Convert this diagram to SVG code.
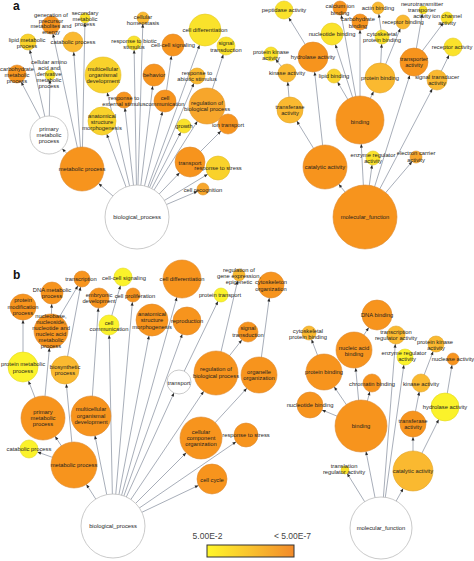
<svg xmlns="http://www.w3.org/2000/svg" width="474" height="561" viewBox="0 0 474 561">
<style>
.e{stroke:#9ea5b1;stroke-width:0.9;fill:none}
.t{font-family:"Liberation Sans",Arial,sans-serif;font-size:5.8px;fill:#1e1e1e;text-anchor:middle}
.O{fill:#F7941D;stroke:#DC8A32;stroke-width:0.6}
.OG{fill:#F7A62B;stroke:#DE962E;stroke-width:0.6}
.G{fill:#FAB930;stroke:#E0A52C;stroke-width:0.6}
.YG{fill:#F9D22B;stroke:#E2BC2A;stroke-width:0.6}
.Y{fill:#FAE22B;stroke:#E2C92A;stroke-width:0.6}
.YB{fill:#FBF22A;stroke:#E3D822;stroke-width:0.6}
.W{fill:#fff;stroke:#bdbdbd;stroke-width:0.8}
.lab{font-family:"Liberation Sans",Arial,sans-serif;font-weight:bold;font-size:12px;fill:#111}
.leg{font-family:"Liberation Sans",Arial,sans-serif;font-size:8.5px;fill:#444;text-anchor:middle}
</style>
<defs>
<linearGradient id="grad" x1="0" y1="0" x2="1" y2="0"><stop offset="0" stop-color="#FFF72A"/><stop offset="0.5" stop-color="#F9C22E"/><stop offset="1" stop-color="#F28A2A"/></linearGradient>
<marker id="m4" viewBox="-40 -3 40 6" refX="0" refY="0" markerWidth="40" markerHeight="6" markerUnits="userSpaceOnUse" orient="auto"><path d="M-4,0 L-7.6,-1.5 L-7.6,1.5 Z" fill="#2a2a2a"/></marker>
<marker id="m5" viewBox="-40 -3 40 6" refX="0" refY="0" markerWidth="40" markerHeight="6" markerUnits="userSpaceOnUse" orient="auto"><path d="M-5,0 L-8.6,-1.5 L-8.6,1.5 Z" fill="#2a2a2a"/></marker>
<marker id="m6" viewBox="-40 -3 40 6" refX="0" refY="0" markerWidth="40" markerHeight="6" markerUnits="userSpaceOnUse" orient="auto"><path d="M-6,0 L-9.6,-1.5 L-9.6,1.5 Z" fill="#2a2a2a"/></marker>
<marker id="m7" viewBox="-40 -3 40 6" refX="0" refY="0" markerWidth="40" markerHeight="6" markerUnits="userSpaceOnUse" orient="auto"><path d="M-7,0 L-10.6,-1.5 L-10.6,1.5 Z" fill="#2a2a2a"/></marker>
<marker id="m8" viewBox="-40 -3 40 6" refX="0" refY="0" markerWidth="40" markerHeight="6" markerUnits="userSpaceOnUse" orient="auto"><path d="M-8,0 L-11.6,-1.5 L-11.6,1.5 Z" fill="#2a2a2a"/></marker>
<marker id="m9" viewBox="-40 -3 40 6" refX="0" refY="0" markerWidth="40" markerHeight="6" markerUnits="userSpaceOnUse" orient="auto"><path d="M-9,0 L-12.6,-1.5 L-12.6,1.5 Z" fill="#2a2a2a"/></marker>
<marker id="m10" viewBox="-40 -3 40 6" refX="0" refY="0" markerWidth="40" markerHeight="6" markerUnits="userSpaceOnUse" orient="auto"><path d="M-10,0 L-13.6,-1.5 L-13.6,1.5 Z" fill="#2a2a2a"/></marker>
<marker id="m11" viewBox="-40 -3 40 6" refX="0" refY="0" markerWidth="40" markerHeight="6" markerUnits="userSpaceOnUse" orient="auto"><path d="M-11,0 L-14.6,-1.5 L-14.6,1.5 Z" fill="#2a2a2a"/></marker>
<marker id="m12" viewBox="-40 -3 40 6" refX="0" refY="0" markerWidth="40" markerHeight="6" markerUnits="userSpaceOnUse" orient="auto"><path d="M-12,0 L-15.6,-1.5 L-15.6,1.5 Z" fill="#2a2a2a"/></marker>
<marker id="m13" viewBox="-40 -3 40 6" refX="0" refY="0" markerWidth="40" markerHeight="6" markerUnits="userSpaceOnUse" orient="auto"><path d="M-13,0 L-16.6,-1.5 L-16.6,1.5 Z" fill="#2a2a2a"/></marker>
<marker id="m14" viewBox="-40 -3 40 6" refX="0" refY="0" markerWidth="40" markerHeight="6" markerUnits="userSpaceOnUse" orient="auto"><path d="M-14,0 L-17.6,-1.5 L-17.6,1.5 Z" fill="#2a2a2a"/></marker>
<marker id="m15" viewBox="-40 -3 40 6" refX="0" refY="0" markerWidth="40" markerHeight="6" markerUnits="userSpaceOnUse" orient="auto"><path d="M-15,0 L-18.6,-1.5 L-18.6,1.5 Z" fill="#2a2a2a"/></marker>
<marker id="m16" viewBox="-40 -3 40 6" refX="0" refY="0" markerWidth="40" markerHeight="6" markerUnits="userSpaceOnUse" orient="auto"><path d="M-16,0 L-19.6,-1.5 L-19.6,1.5 Z" fill="#2a2a2a"/></marker>
<marker id="m17" viewBox="-40 -3 40 6" refX="0" refY="0" markerWidth="40" markerHeight="6" markerUnits="userSpaceOnUse" orient="auto"><path d="M-17,0 L-20.6,-1.5 L-20.6,1.5 Z" fill="#2a2a2a"/></marker>
<marker id="m18" viewBox="-40 -3 40 6" refX="0" refY="0" markerWidth="40" markerHeight="6" markerUnits="userSpaceOnUse" orient="auto"><path d="M-18,0 L-21.6,-1.5 L-21.6,1.5 Z" fill="#2a2a2a"/></marker>
<marker id="m19" viewBox="-40 -3 40 6" refX="0" refY="0" markerWidth="40" markerHeight="6" markerUnits="userSpaceOnUse" orient="auto"><path d="M-19,0 L-22.6,-1.5 L-22.6,1.5 Z" fill="#2a2a2a"/></marker>
<marker id="m20" viewBox="-40 -3 40 6" refX="0" refY="0" markerWidth="40" markerHeight="6" markerUnits="userSpaceOnUse" orient="auto"><path d="M-20,0 L-23.6,-1.5 L-23.6,1.5 Z" fill="#2a2a2a"/></marker>
<marker id="m21" viewBox="-40 -3 40 6" refX="0" refY="0" markerWidth="40" markerHeight="6" markerUnits="userSpaceOnUse" orient="auto"><path d="M-21,0 L-24.6,-1.5 L-24.6,1.5 Z" fill="#2a2a2a"/></marker>
<marker id="m22" viewBox="-40 -3 40 6" refX="0" refY="0" markerWidth="40" markerHeight="6" markerUnits="userSpaceOnUse" orient="auto"><path d="M-22,0 L-25.6,-1.5 L-25.6,1.5 Z" fill="#2a2a2a"/></marker>
<marker id="m23" viewBox="-40 -3 40 6" refX="0" refY="0" markerWidth="40" markerHeight="6" markerUnits="userSpaceOnUse" orient="auto"><path d="M-23,0 L-26.6,-1.5 L-26.6,1.5 Z" fill="#2a2a2a"/></marker>
<marker id="m24" viewBox="-40 -3 40 6" refX="0" refY="0" markerWidth="40" markerHeight="6" markerUnits="userSpaceOnUse" orient="auto"><path d="M-24,0 L-27.6,-1.5 L-27.6,1.5 Z" fill="#2a2a2a"/></marker>
<marker id="m26" viewBox="-40 -3 40 6" refX="0" refY="0" markerWidth="40" markerHeight="6" markerUnits="userSpaceOnUse" orient="auto"><path d="M-26,0 L-29.6,-1.5 L-29.6,1.5 Z" fill="#2a2a2a"/></marker>
</defs>
<rect width="474" height="561" fill="#fff"/>

<g id="connectors">
<!-- panel a, biological_process -->
<line class="e" x1="137" y1="217" x2="82" y2="169" marker-end="url(#m22)"/>
<line class="e" x1="137" y1="217" x2="103" y2="75" marker-end="url(#m18)"/>
<line class="e" x1="137" y1="217" x2="102" y2="121" marker-end="url(#m14)"/>
<line class="e" x1="137" y1="217" x2="124" y2="100" marker-end="url(#m8)"/>
<line class="e" x1="137" y1="217" x2="134" y2="43" marker-end="url(#m7)"/>
<line class="e" x1="137" y1="217" x2="143" y2="18" marker-end="url(#m6)"/>
<line class="e" x1="137" y1="217" x2="154" y2="75" marker-end="url(#m11)"/>
<line class="e" x1="137" y1="217" x2="165" y2="101" marker-end="url(#m11)"/>
<line class="e" x1="137" y1="217" x2="205" y2="30" marker-end="url(#m16)"/>
<line class="e" x1="137" y1="217" x2="197" y2="76" marker-end="url(#m8)"/>
<line class="e" x1="137" y1="217" x2="207" y2="106" marker-end="url(#m18)"/>
<line class="e" x1="137" y1="217" x2="184" y2="126" marker-end="url(#m7)"/>
<line class="e" x1="137" y1="217" x2="190" y2="162" marker-end="url(#m15)"/>
<line class="e" x1="137" y1="217" x2="218" y2="168" marker-end="url(#m12)"/>
<line class="e" x1="137" y1="217" x2="203" y2="189" marker-end="url(#m6)"/>
<line class="e" x1="82" y1="169" x2="49" y2="135" marker-end="url(#m19)"/>
<line class="e" x1="82" y1="169" x2="51" y2="25" marker-end="url(#m9)"/>
<line class="e" x1="82" y1="169" x2="73" y2="42" marker-end="url(#m10)"/>
<line class="e" x1="82" y1="169" x2="85" y2="18" marker-end="url(#m5)"/>
<line class="e" x1="49" y1="135" x2="17" y2="74" marker-end="url(#m9)"/>
<line class="e" x1="49" y1="135" x2="50" y2="75" marker-end="url(#m5)"/>
<line class="e" x1="49" y1="135" x2="28" y2="42" marker-end="url(#m8)"/>
<line class="e" x1="165" y1="101" x2="173" y2="45" marker-end="url(#m11)"/>
<line class="e" x1="207" y1="106" x2="226" y2="46" marker-end="url(#m9)"/>
<line class="e" x1="190" y1="162" x2="228" y2="124" marker-end="url(#m10)"/>
<!-- panel a, molecular_function -->
<line class="e" x1="365" y1="217" x2="325" y2="167" marker-end="url(#m22)"/>
<line class="e" x1="365" y1="217" x2="360" y2="120" marker-end="url(#m24)"/>
<line class="e" x1="365" y1="217" x2="373" y2="158" marker-end="url(#m7)"/>
<line class="e" x1="365" y1="217" x2="416" y2="157" marker-end="url(#m6)"/>
<line class="e" x1="365" y1="217" x2="414" y2="62" marker-end="url(#m14)"/>
<line class="e" x1="365" y1="217" x2="437" y2="80" marker-end="url(#m10)"/>
<line class="e" x1="325" y1="167" x2="290" y2="110" marker-end="url(#m13)"/>
<line class="e" x1="325" y1="167" x2="313" y2="57" marker-end="url(#m15)"/>
<line class="e" x1="290" y1="110" x2="287" y2="73" marker-end="url(#m9)"/>
<line class="e" x1="287" y1="73" x2="271" y2="54" marker-end="url(#m7)"/>
<line class="e" x1="313" y1="57" x2="284" y2="10" marker-end="url(#m9)"/>
<line class="e" x1="360" y1="120" x2="332" y2="34" marker-end="url(#m11)"/>
<line class="e" x1="360" y1="120" x2="334" y2="76" marker-end="url(#m7)"/>
<line class="e" x1="360" y1="120" x2="340" y2="8" marker-end="url(#m7)"/>
<line class="e" x1="360" y1="120" x2="360" y2="22" marker-end="url(#m8)"/>
<line class="e" x1="360" y1="120" x2="380" y2="78" marker-end="url(#m15)"/>
<line class="e" x1="380" y1="78" x2="382" y2="37" marker-end="url(#m7)"/>
<line class="e" x1="380" y1="78" x2="403" y2="22" marker-end="url(#m7)"/>
<line class="e" x1="382" y1="37" x2="378" y2="8" marker-end="url(#m6)"/>
<line class="e" x1="414" y1="62" x2="423" y2="10" marker-end="url(#m4)"/>
<line class="e" x1="414" y1="62" x2="447" y2="18" marker-end="url(#m6)"/>
<line class="e" x1="437" y1="80" x2="453" y2="47" marker-end="url(#m9)"/>
<!-- panel b, biological_process -->
<line class="e" x1="113" y1="526" x2="74" y2="465" marker-end="url(#m23)"/>
<line class="e" x1="113" y1="526" x2="91" y2="416" marker-end="url(#m20)"/>
<line class="e" x1="113" y1="526" x2="109" y2="325" marker-end="url(#m10)"/>
<line class="e" x1="113" y1="526" x2="133" y2="295" marker-end="url(#m7)"/>
<line class="e" x1="113" y1="526" x2="152" y2="320" marker-end="url(#m16)"/>
<line class="e" x1="113" y1="526" x2="182" y2="279" marker-end="url(#m19)"/>
<line class="e" x1="113" y1="526" x2="187" y2="321" marker-end="url(#m14)"/>
<line class="e" x1="113" y1="526" x2="179" y2="382" marker-end="url(#m12)"/>
<line class="e" x1="113" y1="526" x2="216" y2="373" marker-end="url(#m22)"/>
<line class="e" x1="113" y1="526" x2="201" y2="438" marker-end="url(#m21)"/>
<line class="e" x1="113" y1="526" x2="246" y2="435" marker-end="url(#m12)"/>
<line class="e" x1="113" y1="526" x2="212" y2="479" marker-end="url(#m15)"/>
<line class="e" x1="74" y1="465" x2="43" y2="418" marker-end="url(#m22)"/>
<line class="e" x1="74" y1="465" x2="29" y2="449" marker-end="url(#m9)"/>
<line class="e" x1="74" y1="465" x2="65" y2="370" marker-end="url(#m14)"/>
<line class="e" x1="43" y1="418" x2="23" y2="367" marker-end="url(#m15)"/>
<line class="e" x1="43" y1="418" x2="51" y2="331" marker-end="url(#m17)"/>
<line class="e" x1="23" y1="367" x2="23" y2="307" marker-end="url(#m13)"/>
<line class="e" x1="51" y1="331" x2="52" y2="293" marker-end="url(#m11)"/>
<line class="e" x1="51" y1="331" x2="82" y2="279" marker-end="url(#m8)"/>
<line class="e" x1="65" y1="370" x2="82" y2="279" marker-end="url(#m8)"/>
<line class="e" x1="91" y1="416" x2="99" y2="298" marker-end="url(#m10)"/>
<line class="e" x1="109" y1="325" x2="123" y2="277" marker-end="url(#m9)"/>
<line class="e" x1="179" y1="382" x2="221" y2="295" marker-end="url(#m7)"/>
<line class="e" x1="216" y1="373" x2="248" y2="332" marker-end="url(#m10)"/>
<line class="e" x1="216" y1="373" x2="239" y2="275" marker-end="url(#m6)"/>
<line class="e" x1="201" y1="438" x2="259" y2="375" marker-end="url(#m18)"/>
<line class="e" x1="259" y1="375" x2="271" y2="285" marker-end="url(#m13)"/>
<!-- panel b, molecular_function -->
<line class="e" x1="381" y1="528" x2="361" y2="426" marker-end="url(#m26)"/>
<line class="e" x1="381" y1="528" x2="413" y2="471" marker-end="url(#m20)"/>
<line class="e" x1="381" y1="528" x2="345" y2="470" marker-end="url(#m4)"/>
<line class="e" x1="381" y1="528" x2="396" y2="335" marker-end="url(#m9)"/>
<line class="e" x1="381" y1="528" x2="405" y2="357" marker-end="url(#m8)"/>
<line class="e" x1="413" y1="471" x2="413" y2="424" marker-end="url(#m13)"/>
<line class="e" x1="413" y1="471" x2="445" y2="407" marker-end="url(#m14)"/>
<line class="e" x1="413" y1="424" x2="421" y2="383" marker-end="url(#m9)"/>
<line class="e" x1="421" y1="383" x2="436" y2="344" marker-end="url(#m8)"/>
<line class="e" x1="445" y1="407" x2="453" y2="359" marker-end="url(#m6)"/>
<line class="e" x1="361" y1="426" x2="310" y2="405" marker-end="url(#m13)"/>
<line class="e" x1="361" y1="426" x2="324" y2="372" marker-end="url(#m18)"/>
<line class="e" x1="361" y1="426" x2="354" y2="350" marker-end="url(#m18)"/>
<line class="e" x1="361" y1="426" x2="372" y2="383" marker-end="url(#m9)"/>
<line class="e" x1="324" y1="372" x2="309" y2="333" marker-end="url(#m7)"/>
<line class="e" x1="354" y1="350" x2="377" y2="315" marker-end="url(#m15)"/>
</g>

<text class="lab" x="13" y="9.5">a</text>
<text class="lab" x="13" y="278.5">b</text>

<!-- panel a left -->
<g id="a_bp"><circle class="W" cx="137" cy="217" r="32"/><text class="t" x="137" y="219">biological_process</text></g>
<g id="a_mp"><circle class="O" cx="82" cy="169" r="22"/><text class="t" x="82" y="171">metabolic process</text></g>
<g id="a_pmp"><circle class="W" cx="49" cy="135" r="19"/><text class="t"><tspan x="49" y="131">primary</tspan><tspan x="49" y="137">metabolic</tspan><tspan x="49" y="143">process</tspan></text></g>
<g id="a_gen"><circle class="O" cx="51" cy="25" r="9"/><text class="t"><tspan x="51" y="17">generation of</tspan><tspan x="51" y="22.7">precursor</tspan><tspan x="51" y="28.4">metabolites and</tspan><tspan x="51" y="34">energy</tspan></text></g>
<g id="a_sec"><circle class="Y" cx="85" cy="18" r="5"/><text class="t"><tspan x="85" y="15">secondary</tspan><tspan x="85" y="20.5">metabolic</tspan><tspan x="85" y="26">process</tspan></text></g>
<g id="a_lip"><circle class="YG" cx="28" cy="42" r="8"/><text class="t"><tspan x="27" y="42">lipid metabolic</tspan><tspan x="27" y="48">process</tspan></text></g>
<g id="a_cat"><circle class="G" cx="73" cy="42" r="10"/><text class="t" x="73" y="44">catabolic process</text></g>
<g id="a_carb"><circle class="O" cx="17" cy="74" r="9"/><text class="t"><tspan x="17" y="71">carbohydrate</tspan><tspan x="17" y="77">metabolic</tspan><tspan x="17" y="82.5">process</tspan></text></g>
<g id="a_aa"><circle class="Y" cx="50" cy="75" r="5"/><text class="t"><tspan x="49" y="64">cellular amino</tspan><tspan x="49" y="70">acid and</tspan><tspan x="49" y="76">derivative</tspan><tspan x="49" y="82">metabolic</tspan><tspan x="49" y="88">process</tspan></text></g>
<g id="a_mod"><circle class="YG" cx="103" cy="75" r="18"/><text class="t"><tspan x="103" y="71">multicellular</tspan><tspan x="103" y="77">organismal</tspan><tspan x="103" y="83">development</tspan></text></g>
<g id="a_ext"><circle class="O" cx="124" cy="100" r="8"/><text class="t"><tspan x="124" y="99.5">response to</tspan><tspan x="124" y="105.5">external stimulus</tspan></text></g>
<g id="a_ams"><circle class="YG" cx="102" cy="121" r="14"/><text class="t"><tspan x="102" y="118">anatomical</tspan><tspan x="102" y="124">structure</tspan><tspan x="102" y="129.5">morphogenesis</tspan></text></g>
<g id="a_hom"><circle class="G" cx="143" cy="18" r="6"/><text class="t"><tspan x="143" y="18.5">cellular</tspan><tspan x="143" y="24.5">homeostasis</tspan></text></g>
<g id="a_bio"><circle class="Y" cx="134" cy="43" r="7"/><text class="t"><tspan x="134" y="42.5">response to biotic</tspan><tspan x="134" y="48.5">stimulus</tspan></text></g>
<g id="a_cdiff"><circle class="Y" cx="205" cy="30" r="16"/><text class="t" x="205" y="32">cell differentiation</text></g>
<g id="a_ccs"><circle class="O" cx="173" cy="45" r="11"/><text class="t" x="173" y="47">cell-cell signaling</text></g>
<g id="a_sig"><circle class="Y" cx="226" cy="46" r="9"/><text class="t"><tspan x="226" y="45">signal</tspan><tspan x="226" y="51.5">transduction</tspan></text></g>
<g id="a_beh"><circle class="O" cx="154" cy="75" r="11"/><text class="t" x="154" y="77">behavior</text></g>
<g id="a_abio"><circle class="G" cx="197" cy="76" r="8"/><text class="t"><tspan x="197" y="75">response to</tspan><tspan x="197" y="81">abiotic stimulus</tspan></text></g>
<g id="a_com"><circle class="O" cx="165" cy="101" r="11"/><text class="t"><tspan x="165" y="100">cell</tspan><tspan x="165" y="106">communication</tspan></text></g>
<g id="a_reg"><circle class="OG" cx="207" cy="106" r="18"/><text class="t"><tspan x="207" y="105">regulation of</tspan><tspan x="207" y="111">biological process</tspan></text></g>
<g id="a_gro"><circle class="Y" cx="184" cy="126" r="7"/><text class="t" x="184" y="128">growth</text></g>
<g id="a_ion"><circle class="O" cx="228" cy="124" r="10"/><text class="t" x="228" y="127">ion transport</text></g>
<g id="a_tra"><circle class="O" cx="190" cy="162" r="15"/><text class="t" x="190" y="165">transport</text></g>
<g id="a_str"><circle class="YG" cx="218" cy="168" r="12"/><text class="t" x="218" y="170">response to stress</text></g>
<g id="a_rec"><circle class="OG" cx="203" cy="189" r="6"/><text class="t" x="203" y="192">cell recognition</text></g>

<!-- panel a right -->
<g id="a_mf"><circle class="O" cx="365" cy="217" r="32"/><text class="t" x="365" y="219">molecular_function</text></g>
<g id="a_cat2"><circle class="O" cx="325" cy="167" r="22"/><text class="t" x="325" y="169">catalytic activity</text></g>
<g id="a_bind"><circle class="O" cx="360" cy="120" r="24"/><text class="t" x="360" y="124">binding</text></g>
<g id="a_enz"><circle class="Y" cx="373" cy="158" r="7"/><text class="t"><tspan x="373" y="157">enzyme regulator</tspan><tspan x="373" y="163">activity</tspan></text></g>
<g id="a_ele"><circle class="OG" cx="416" cy="157" r="6"/><text class="t"><tspan x="416" y="155">electron carrier</tspan><tspan x="416" y="161.5">activity</tspan></text></g>
<g id="a_tr"><circle class="G" cx="290" cy="110" r="13"/><text class="t"><tspan x="290" y="109">transferase</tspan><tspan x="290" y="115">activity</tspan></text></g>
<g id="a_kin"><circle class="G" cx="287" cy="73" r="9"/><text class="t" x="287" y="75">kinase activity</text></g>
<g id="a_pk"><circle class="Y" cx="271" cy="54" r="7"/><text class="t"><tspan x="271" y="54">protein kinase</tspan><tspan x="271" y="60">activity</tspan></text></g>
<g id="a_hyd"><circle class="O" cx="313" cy="57" r="15"/><text class="t" x="313" y="59">hydrolase activity</text></g>
<g id="a_pep"><circle class="Y" cx="284" cy="10" r="9"/><text class="t" x="284" y="12">peptidase activity</text></g>
<g id="a_nuc"><circle class="Y" cx="332" cy="34" r="11"/><text class="t" x="332" y="36">nucleotide binding</text></g>
<g id="a_lipb"><circle class="YG" cx="334" cy="76" r="7"/><text class="t" x="334" y="78">lipid binding</text></g>
<g id="a_ca"><circle class="O" cx="340" cy="8" r="7"/><text class="t"><tspan x="340" y="8">calcium ion</tspan><tspan x="340" y="14.5">binding</tspan></text></g>
<g id="a_carbb"><circle class="O" cx="360" cy="22" r="8"/><text class="t"><tspan x="358" y="21">carbohydrate</tspan><tspan x="358" y="27.5">binding</tspan></text></g>
<g id="a_act"><circle class="G" cx="378" cy="8" r="6"/><text class="t" x="378" y="10">actin binding</text></g>
<g id="a_cyt"><circle class="Y" cx="382" cy="37" r="7"/><text class="t"><tspan x="382" y="35.5">cytoskeletal</tspan><tspan x="382" y="42">protein binding</tspan></text></g>
<g id="a_rb"><circle class="G" cx="403" cy="22" r="7"/><text class="t" x="403" y="24">receptor binding</text></g>
<g id="a_pb"><circle class="G" cx="380" cy="78" r="15"/><text class="t" x="380" y="80">protein binding</text></g>
<g id="a_neu"><circle class="Y" cx="423" cy="10" r="4"/><text class="t"><tspan x="422" y="6">neurotransmitter</tspan><tspan x="422" y="12">transporter</tspan><tspan x="422" y="18">activity</tspan></text></g>
<g id="a_ion2"><circle class="Y" cx="447" cy="18" r="6"/><text class="t"><tspan x="447" y="18">ion channel</tspan><tspan x="447" y="24.5">activity</tspan></text></g>
<g id="a_tpa"><circle class="O" cx="414" cy="62" r="14"/><text class="t"><tspan x="414" y="61">transporter</tspan><tspan x="414" y="67">activity</tspan></text></g>
<g id="a_rcpt"><circle class="Y" cx="453" cy="47" r="9"/><text class="t" x="452" y="49">receptor activity</text></g>
<g id="a_st"><circle class="G" cx="437" cy="80" r="10"/><text class="t"><tspan x="437" y="79">signal transducer</tspan><tspan x="437" y="85">activity</tspan></text></g>

<!-- panel b left -->
<g id="b_bp"><circle class="W" cx="113" cy="526" r="32"/><text class="t" x="113" y="528">biological_process</text></g>
<g id="b_mp"><circle class="O" cx="74" cy="465" r="23"/><text class="t" x="74" y="467">metabolic process</text></g>
<g id="b_cat"><circle class="YB" cx="29" cy="449" r="9"/><text class="t" x="29" y="451">catabolic process</text></g>
<g id="b_pmp"><circle class="O" cx="43" cy="418" r="22"/><text class="t"><tspan x="43" y="413.5">primary</tspan><tspan x="43" y="420">metabolic</tspan><tspan x="43" y="426">process</tspan></text></g>
<g id="b_mod"><circle class="O" cx="91" cy="416" r="20"/><text class="t"><tspan x="91" y="411">multicellular</tspan><tspan x="91" y="418">organismal</tspan><tspan x="91" y="424">development</tspan></text></g>
<g id="b_ccorg"><circle class="O" cx="201" cy="438" r="21"/><text class="t"><tspan x="201" y="434">cellular</tspan><tspan x="201" y="440">component</tspan><tspan x="201" y="446">organization</tspan></text></g>
<g id="b_str"><circle class="O" cx="246" cy="435" r="12"/><text class="t" x="246" y="437">response to stress</text></g>
<g id="b_cc"><circle class="O" cx="212" cy="479" r="15"/><text class="t" x="212" y="482">cell cycle</text></g>
<g id="b_tra"><circle class="W" cx="179" cy="382" r="12"/><text class="t" x="179" y="385">transport</text></g>
<g id="b_reg"><circle class="O" cx="216" cy="373" r="22"/><text class="t"><tspan x="216" y="371">regulation of</tspan><tspan x="216" y="377.5">biological process</tspan></text></g>
<g id="b_org"><circle class="O" cx="259" cy="375" r="18"/><text class="t"><tspan x="259" y="373.5">organelle</tspan><tspan x="259" y="379.5">organization</tspan></text></g>
<g id="b_sig"><circle class="O" cx="248" cy="332" r="10"/><text class="t"><tspan x="248" y="330">signal</tspan><tspan x="248" y="337">transduction</tspan></text></g>
<g id="b_cyt"><circle class="O" cx="271" cy="285" r="13"/><text class="t"><tspan x="271" y="284">cytoskeleton</tspan><tspan x="271" y="290.5">organization</tspan></text></g>
<g id="b_rge"><circle class="G" cx="239" cy="275" r="6"/><text class="t"><tspan x="239" y="272">regulation of</tspan><tspan x="239" y="278">gene expression,</tspan><tspan x="239" y="284">epigenetic</tspan></text></g>
<g id="b_pt"><circle class="YB" cx="221" cy="295" r="7"/><text class="t" x="220" y="297">protein transport</text></g>
<g id="b_cdiff"><circle class="O" cx="182" cy="279" r="19"/><text class="t" x="182" y="281">cell differentiation</text></g>
<g id="b_rep"><circle class="O" cx="187" cy="321" r="14"/><text class="t" x="187" y="323">reproduction</text></g>
<g id="b_ams"><circle class="O" cx="152" cy="320" r="16"/><text class="t"><tspan x="152" y="315.5">anatomical</tspan><tspan x="152" y="322">structure</tspan><tspan x="152" y="328.5">morphogenesis</tspan></text></g>
<g id="b_prol"><circle class="O" cx="133" cy="295" r="7"/><text class="t" x="135" y="298">cell proliferation</text></g>
<g id="b_ccs"><circle class="YB" cx="123" cy="277" r="9"/><text class="t" x="124" y="280">cell-cell signaling</text></g>
<g id="b_emb"><circle class="O" cx="99" cy="298" r="10"/><text class="t"><tspan x="99" y="297">embryonic</tspan><tspan x="99" y="303">development</tspan></text></g>
<g id="b_com"><circle class="YB" cx="109" cy="325" r="10"/><text class="t"><tspan x="109" y="324.5">cell</tspan><tspan x="109" y="330.5">communication</tspan></text></g>
<g id="b_trn"><circle class="O" cx="82" cy="279" r="8"/><text class="t" x="81" y="281">transcription</text></g>
<g id="b_dna"><circle class="O" cx="52" cy="293" r="11"/><text class="t"><tspan x="52" y="292">DNA metabolic</tspan><tspan x="52" y="298">process</tspan></text></g>
<g id="b_pmod"><circle class="O" cx="23" cy="307" r="13"/><text class="t"><tspan x="23" y="302">protein</tspan><tspan x="23" y="308.5">modification</tspan><tspan x="23" y="315">process</tspan></text></g>
<g id="b_nuc"><circle class="O" cx="51" cy="331" r="17"/><text class="t"><tspan x="51" y="318">nucleobase,</tspan><tspan x="51" y="324">nucleoside,</tspan><tspan x="51" y="329.5">nucleotide and</tspan><tspan x="51" y="335.5">nucleic acid</tspan><tspan x="51" y="341.5">metabolic</tspan><tspan x="51" y="347.5">process</tspan></text></g>
<g id="b_prm"><circle class="YB" cx="23" cy="367" r="15"/><text class="t"><tspan x="23" y="366">protein metabolic</tspan><tspan x="23" y="373">process</tspan></text></g>
<g id="b_bio"><circle class="G" cx="65" cy="370" r="14"/><text class="t"><tspan x="65" y="369">biosynthetic</tspan><tspan x="65" y="375">process</tspan></text></g>

<!-- panel b right -->
<g id="b_mf"><circle class="W" cx="381" cy="528" r="31"/><text class="t" x="381" y="530">molecular_function</text></g>
<g id="b_bind"><circle class="O" cx="361" cy="426" r="26"/><text class="t" x="361" y="428">binding</text></g>
<g id="b_cat2"><circle class="G" cx="413" cy="471" r="20"/><text class="t" x="413" y="473">catalytic activity</text></g>
<g id="b_tr"><circle class="O" cx="413" cy="424" r="13"/><text class="t"><tspan x="413" y="423">transferase</tspan><tspan x="413" y="429">activity</tspan></text></g>
<g id="b_hyd"><circle class="YB" cx="445" cy="407" r="14"/><text class="t" x="445" y="409">hydrolase activity</text></g>
<g id="b_trl"><circle class="Y" cx="345" cy="470" r="4"/><text class="t"><tspan x="344" y="468">translation</tspan><tspan x="344" y="474">regulator activity</tspan></text></g>
<g id="b_nucb"><circle class="O" cx="310" cy="405" r="13"/><text class="t" x="310" y="407">nucleotide binding</text></g>
<g id="b_pb"><circle class="O" cx="324" cy="372" r="18"/><text class="t" x="324" y="374">protein binding</text></g>
<g id="b_cpb"><circle class="G" cx="309" cy="333" r="7"/><text class="t"><tspan x="308" y="332.5">cytoskeletal</tspan><tspan x="308" y="338.5">protein binding</tspan></text></g>
<g id="b_nab"><circle class="O" cx="354" cy="350" r="18"/><text class="t"><tspan x="354" y="349.5">nucleic acid</tspan><tspan x="354" y="355.5">binding</tspan></text></g>
<g id="b_dna2"><circle class="O" cx="377" cy="315" r="15"/><text class="t" x="377" y="317">DNA binding</text></g>
<g id="b_trr"><circle class="G" cx="396" cy="335" r="9"/><text class="t"><tspan x="396" y="334">transcription</tspan><tspan x="396" y="340">regulator activity</tspan></text></g>
<g id="b_chr"><circle class="O" cx="372" cy="383" r="9"/><text class="t" x="372" y="386">chromatin binding</text></g>
<g id="b_enz"><circle class="YB" cx="405" cy="357" r="8"/><text class="t"><tspan x="404" y="355">enzyme regulator</tspan><tspan x="407" y="361">activity</tspan></text></g>
<g id="b_pk"><circle class="G" cx="436" cy="344" r="8"/><text class="t"><tspan x="435" y="344">protein kinase</tspan><tspan x="436" y="349.5">activity</tspan></text></g>
<g id="b_nuca"><circle class="O" cx="453" cy="359" r="6"/><text class="t" x="453" y="361">nuclease activity</text></g>
<g id="b_kin"><circle class="G" cx="421" cy="383" r="9"/><text class="t" x="421" y="386">kinase activity</text></g>

<g id="legend">
<text class="leg" x="207.5" y="539">5.00E-2</text>
<text class="leg" x="292.5" y="539">&lt; 5.00E-7</text>
<rect x="207" y="545" width="87" height="12" fill="url(#grad)" stroke="#333" stroke-width="1"/>
</g>
</svg>
